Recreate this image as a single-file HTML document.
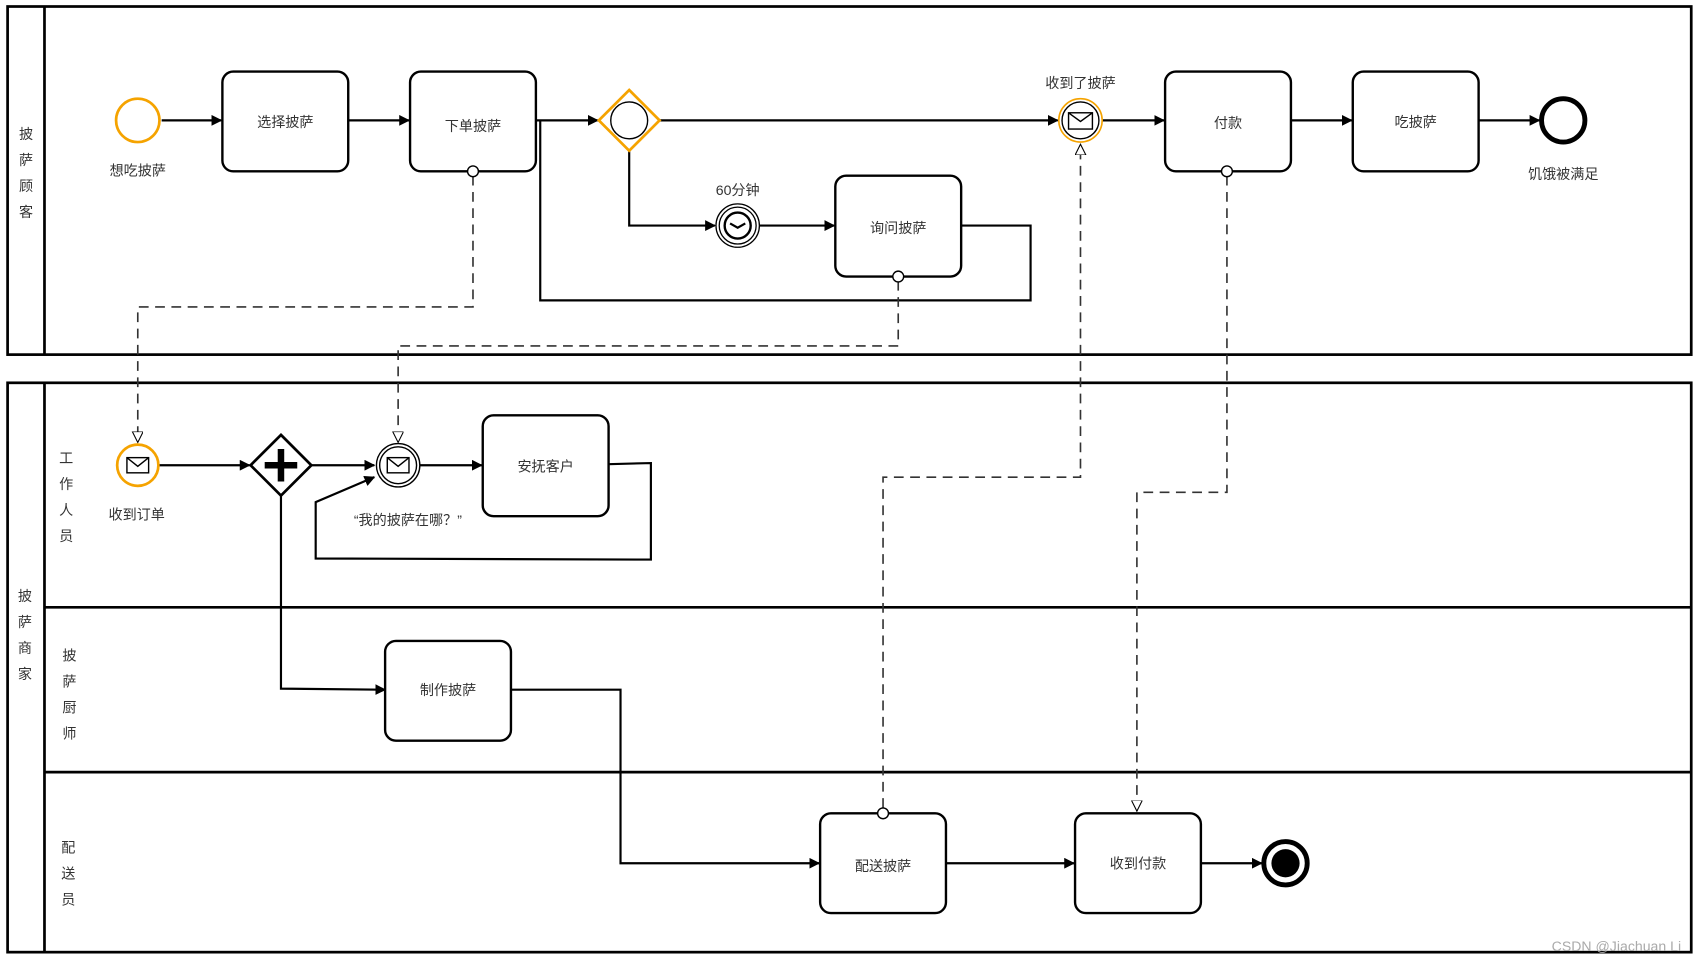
<!DOCTYPE html>
<html><head><meta charset="utf-8"><style>
html,body{margin:0;padding:0;background:#fff;width:1701px;height:963px;overflow:hidden}
svg{display:block}
text{font-family:"Liberation Sans","Noto Sans CJK SC",sans-serif;font-size:13px;fill:#333;text-anchor:middle}
</style></head><body>
<svg width="1701" height="963" viewBox="0 0 1568 888" preserveAspectRatio="none" xmlns="http://www.w3.org/2000/svg">
<defs>
<marker id="a" markerWidth="10" markerHeight="10" refX="9" refY="5" orient="auto" markerUnits="userSpaceOnUse"><path d="M0,0 L10,5 L0,10 z" fill="#000"/></marker>
<marker id="o" markerWidth="12" markerHeight="12" refX="10" refY="5" orient="auto" markerUnits="userSpaceOnUse"><path d="M0,0 L10,5 L0,10 z" fill="#fff" stroke="#000" stroke-width="1"/></marker>
</defs>
<g fill="none" stroke="#000" stroke-width="2.5">
<rect x="7" y="6" width="1552" height="321"/><line x1="41" y1="6" x2="41" y2="327"/>
<rect x="7" y="353" width="1552" height="525"/><line x1="41" y1="353" x2="41" y2="878"/>
<line x1="41" y1="560" x2="1559" y2="560"/><line x1="41" y1="712" x2="1559" y2="712"/>
</g>
<g fill="#fff" stroke="#000" stroke-width="2.2">
<rect x="205" y="66" width="116" height="92" rx="10"/>
<rect x="378" y="66" width="116" height="92" rx="10"/>
<rect x="770" y="162" width="116" height="93" rx="10"/>
<rect x="1074" y="66" width="116" height="92" rx="10"/>
<rect x="1247" y="66" width="116" height="92" rx="10"/>
<rect x="445" y="383" width="116" height="93" rx="10"/>
<rect x="355" y="591" width="116" height="92" rx="10"/>
<rect x="756" y="750" width="116" height="92" rx="10"/>
<rect x="991" y="750" width="116" height="92" rx="10"/>
</g>
<g fill="none" stroke="#000" stroke-width="2" marker-end="url(#a)">
<path d="M149,111H204"/><path d="M321,111H377"/><path d="M494,111H551"/>
<path d="M608,111H975"/><path d="M1016,111H1073"/><path d="M1190,111H1246"/><path d="M1363,111H1419"/>
<path d="M580,139V208H659"/><path d="M700,208H769"/>
<path d="M147,429H230"/><path d="M287,429H345"/><path d="M387,429H444"/>
<path d="M561,428L600,427V516L291,515V463L345,440"/>
<path d="M259,457V635L355,636"/>
<path d="M471,636H572V796H755"/><path d="M872,796H990"/><path d="M1107,796H1163"/>
</g>
<path d="M886,208H950V277H498V111" fill="none" stroke="#000" stroke-width="2"/>
<g fill="none" stroke="#333" stroke-width="1.5" stroke-dasharray="9,6">
<path d="M436,162V283H127V408" marker-end="url(#o)"/>
<path d="M828,259V319H367V408" marker-end="url(#o)"/>
<path d="M814,745V440H996V133" marker-end="url(#o)"/>
<path d="M1131,162V454H1048V748" marker-end="url(#o)"/>
</g>
<g fill="#fff" stroke="#000" stroke-width="1.3">
<circle cx="436" cy="158" r="5"/><circle cx="828" cy="255" r="5"/><circle cx="1131" cy="158" r="5"/><circle cx="814" cy="750" r="5"/>
</g>
<circle cx="127" cy="111" r="20" fill="#fff" stroke="#f5a300" stroke-width="2.5"/>
<path d="M580,83L608,111L580,139L552,111z" fill="#fff" stroke="#f5a300" stroke-width="2.5"/>
<circle cx="580" cy="111" r="17" fill="#fff" stroke="#000" stroke-width="1.3"/>
<circle cx="680" cy="208" r="20" fill="#fff" stroke="#000" stroke-width="1.2"/>
<circle cx="680" cy="208" r="17" fill="#fff" stroke="#000" stroke-width="1.2"/>
<circle cx="680" cy="208" r="12" fill="#fff" stroke="#000" stroke-width="2.2"/>
<path d="M673,206L680,210L687,206" fill="none" stroke="#000" stroke-width="2"/>
<circle cx="996" cy="111" r="20" fill="#fff" stroke="#f5a300" stroke-width="1.5"/>
<circle cx="996" cy="111" r="17" fill="#fff" stroke="#000" stroke-width="1.3"/>
<rect x="985" y="104" width="22" height="15" fill="#fff" stroke="#000" stroke-width="1.3"/><path d="M985,104L996,112L1007,104" fill="none" stroke="#000" stroke-width="1.3"/>
<circle cx="1441" cy="111" r="20" fill="#fff" stroke="#000" stroke-width="4.5"/>
<circle cx="127" cy="429" r="19" fill="#fff" stroke="#f5a300" stroke-width="2.5"/>
<rect x="117" y="422" width="20" height="14" fill="#fff" stroke="#000" stroke-width="1.3"/><path d="M117,422L127,430L137,422" fill="none" stroke="#000" stroke-width="1.3"/>
<path d="M259,401L287,429L259,457L231,429z" fill="#fff" stroke="#000" stroke-width="2.5"/>
<path d="M259,414V444M244,429H274" stroke="#000" stroke-width="6"/>
<circle cx="367" cy="429" r="20" fill="#fff" stroke="#000" stroke-width="1.3"/>
<circle cx="367" cy="429" r="17" fill="#fff" stroke="#000" stroke-width="1.3"/>
<rect x="357" y="422" width="20" height="14" fill="#fff" stroke="#000" stroke-width="1.3"/><path d="M357,422L367,430L377,422" fill="none" stroke="#000" stroke-width="1.3"/>
<circle cx="1185" cy="796" r="20" fill="#fff" stroke="#000" stroke-width="4.5"/>
<circle cx="1185" cy="796" r="13" fill="#000"/>
<g>
<text x="263" y="117">选择披萨</text><text x="436" y="121">下单披萨</text><text x="828" y="215">询问披萨</text>
<text x="1132" y="118">付款</text><text x="1305" y="117">吃披萨</text><text x="503" y="435">安抚客户</text>
<text x="413" y="641">制作披萨</text><text x="814" y="803">配送披萨</text><text x="1049" y="801">收到付款</text>
<text x="127" y="162">想吃披萨</text><text x="680" y="180">60分钟</text><text x="996" y="81">收到了披萨</text>
<text x="1441" y="165">饥饿被满足</text><text x="126" y="479">收到订单</text><text x="376" y="484">“我的披萨在哪？”</text>
</g>
<g>
<text x="24" y="128">披</text><text x="24" y="152">萨</text><text x="24" y="176">顾</text><text x="24" y="200">客</text>
<text x="23" y="554">披</text><text x="23" y="578">萨</text><text x="23" y="602">商</text><text x="23" y="626">家</text>
<text x="61" y="427">工</text><text x="61" y="451">作</text><text x="61" y="475">人</text><text x="61" y="499">员</text>
<text x="64" y="609">披</text><text x="64" y="633">萨</text><text x="64" y="657">厨</text><text x="64" y="681">师</text>
<text x="63" y="786">配</text><text x="63" y="810">送</text><text x="63" y="834">员</text>
</g>
<text x="1490" y="877" style="fill:#aaa;font-size:13px">CSDN @Jiachuan Li</text>
</svg>
</body></html>
